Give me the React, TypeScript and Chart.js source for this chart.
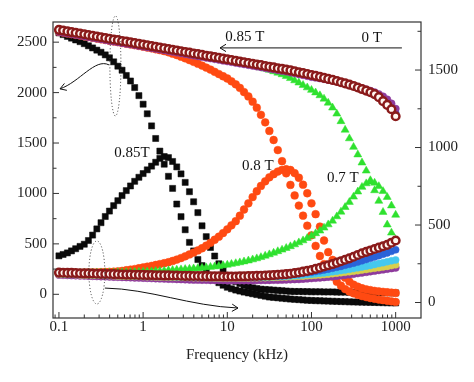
import React, { useEffect, useRef } from "react";
import { Chart, registerables } from "chart.js";
Chart.register(...registerables);

const SERIF = '"Liberation Serif", "Times New Roman", serif';

// measurement frequencies (kHz)
const FREQ = [
  0.1, 0.112, 0.126, 0.141, 0.158, 0.178, 0.2, 0.224, 0.251, 0.282,
  0.316, 0.355, 0.398, 0.447, 0.501, 0.562, 0.631, 0.708, 0.794, 0.891,
  1, 1.12, 1.26, 1.41, 1.58, 1.78, 2, 2.24, 2.51, 2.82,
  3.16, 3.55, 3.98, 4.47, 5.01, 5.62, 6.31, 7.08, 7.94, 8.91,
  10, 11.2, 12.6, 14.1, 15.8, 17.8, 20, 22.4, 25.1, 28.2,
  31.6, 35.5, 39.8, 44.7, 50.1, 56.2, 63.1, 70.8, 79.4, 89.1,
  100, 112, 126, 141, 158, 178, 200, 224, 251, 282,
  316, 355, 398, 447, 501, 562, 631, 708, 794, 891,
  1000,
];

// real part (left axis)
const MU1_MAROON = [
  2622, 2615, 2607, 2600, 2593, 2586, 2578, 2571, 2564, 2556,
  2549, 2542, 2534, 2527, 2520, 2512, 2505, 2498, 2491, 2483,
  2476, 2469, 2461, 2454, 2447, 2439, 2432, 2425, 2418, 2410,
  2403, 2396, 2388, 2381, 2374, 2366, 2359, 2352, 2345, 2337,
  2330, 2323, 2315, 2308, 2301, 2293, 2286, 2279, 2272, 2264,
  2257, 2250, 2242, 2235, 2228, 2220, 2211, 2202, 2193, 2184,
  2175, 2166, 2156, 2146, 2136, 2126, 2115, 2103, 2091, 2079,
  2066, 2050, 2035, 2020, 2003, 1985, 1955, 1915, 1878, 1835,
  1765,
];
const MU1_PURPLE = [
  2602, 2595, 2587, 2580, 2573, 2566, 2558, 2551, 2544, 2536,
  2529, 2522, 2514, 2507, 2500, 2492, 2485, 2478, 2471, 2463,
  2456, 2449, 2441, 2434, 2427, 2419, 2412, 2405, 2398, 2390,
  2383, 2376, 2368, 2361, 2354, 2346, 2339, 2332, 2325, 2317,
  2310, 2303, 2295, 2288, 2281, 2273, 2266, 2259, 2252, 2244,
  2237, 2230, 2222, 2215, 2208, 2200, 2191, 2182, 2173, 2164,
  2155, 2148, 2141, 2134, 2126, 2118, 2109, 2100, 2090, 2079,
  2068, 2056, 2044, 2032, 2018, 2003, 1985, 1962, 1932, 1892,
  1840,
];
const MU1_BLUE = [
  2612, 2605, 2597, 2590, 2583, 2576, 2568, 2561, 2554, 2546,
  2539, 2532, 2524, 2517, 2510, 2502, 2495, 2488, 2481, 2473,
  2466, 2459, 2451, 2444, 2437, 2429, 2422, 2415, 2408, 2400,
  2393, 2386, 2378, 2371, 2364, 2356, 2349, 2342, 2335, 2327,
  2320, 2313, 2305, 2298, 2291, 2283, 2276, 2269, 2262, 2254,
  2247, 2240, 2232, 2225, 2218, 2210, 2201, 2192, 2183, 2174,
  2165, 2157, 2148, 2139, 2130, 2121, 2111, 2100, 2089, 2077,
  2064, 2050, 2036, 2021, 2005, 1988, 1965, 1935, 1898, 1855,
  1800,
];
const MU1_BLACK = [
  2592, 2575, 2557, 2540, 2522, 2505, 2485, 2464, 2443, 2421,
  2400, 2374, 2345, 2305, 2262, 2222, 2170, 2115, 2050, 1970,
  1885, 1790, 1670, 1545, 1420, 1290, 1170, 1050, 895, 770,
  640, 515, 430, 345, 285, 230, 185, 145, 115, 90,
  70, 55, 42, 32, 22, 13, 5, -3, -11, -19,
  -27, -31, -35, -39, -43, -47, -50, -53, -56, -59,
  -61, -63, -64, -66, -67, -69, -70, -72, -73, -75,
  -76, -77, -78, -79, -80, -81, -82, -83, -84, -85,
  -86,
];
const MU1_ORANGE = [
  2602, 2595, 2587, 2580, 2573, 2566, 2558, 2551, 2544, 2536,
  2529, 2522, 2514, 2507, 2500, 2492, 2485, 2478, 2470, 2463,
  2455, 2447, 2439, 2430, 2421, 2411, 2400, 2386, 2372, 2356,
  2340, 2322, 2305, 2287, 2268, 2248, 2228, 2206, 2184, 2162,
  2140, 2112, 2082, 2047, 2005, 1962, 1910, 1850, 1780, 1705,
  1620, 1530, 1430, 1320, 1200, 1085, 980, 880, 780, 680,
  585, 480, 380, 300, 235, 175, 125, 85, 52, 28,
  10, -5, -18, -28, -37, -45, -52, -58, -64, -70,
  -76,
];
const MU1_GREEN = [
  2607, 2600, 2592, 2585, 2578, 2571, 2563, 2556, 2549, 2541,
  2534, 2527, 2519, 2512, 2505, 2497, 2490, 2483, 2476, 2468,
  2461, 2454, 2446, 2439, 2432, 2424, 2417, 2410, 2403, 2395,
  2388, 2381, 2373, 2366, 2359, 2351, 2344, 2337, 2330, 2322,
  2315, 2308, 2300, 2293, 2286, 2278, 2268, 2258, 2248, 2236,
  2224, 2210, 2196, 2180, 2162, 2142, 2120, 2098, 2074, 2050,
  2025, 2000, 1972, 1938, 1898, 1850, 1790, 1715, 1630, 1545,
  1460, 1385, 1305, 1225, 1130, 1030, 925, 815, 690, 610,
  540,
];

// imaginary part (right axis)
const MU2_BLACK = [
  301, 310, 320, 333, 347, 362, 376, 400, 435, 475,
  515, 555, 590, 625, 657, 690, 722, 752, 782, 808,
  832, 856, 880, 905, 930, 942, 935, 910, 875, 830,
  775, 715, 650, 580, 495, 425, 355, 300, 250, 210,
  175, 150, 135, 122, 110, 101, 95, 90, 86, 84,
  82, 80, 78, 76, 74, 72, 71, 71, 70, 70,
  69, 69, 69, 68, 68, 68, 67, 67, 67, 66,
  66, 66, 65, 65, 65, 64, 64, 63, 63, 62,
  62,
];
const MU2_ORANGE = [
  190, 190, 190, 190, 191, 191, 192, 193, 194, 195,
  196, 197, 198, 199, 201, 204, 208, 212, 216, 221,
  226, 231, 236, 242, 248, 254, 260, 268, 277, 287,
  298, 310, 322, 336, 350, 367, 385, 405, 425, 448,
  472, 498, 525, 560, 600, 640, 680, 718, 752, 782,
  808, 828, 845, 856, 860, 855, 835, 805, 760, 705,
  640, 570, 490, 400, 325, 275, 235, 195, 160, 135,
  115, 102, 92, 85, 80, 75, 72, 69, 66, 64,
  62,
];
const MU2_GREEN = [
  190, 190, 190, 190, 190, 190, 191, 191, 191, 192,
  192, 192, 193, 193, 194, 194, 195, 195, 196, 197,
  198, 199, 200, 202, 203, 205, 207, 209, 211, 213,
  215, 217, 219, 221, 223, 226, 229, 232, 235, 239,
  243, 248, 253, 258, 264, 270, 277, 284, 292, 301,
  310, 320, 330, 340, 351, 362, 374, 387, 400, 415,
  430, 446, 463, 482, 503, 527, 555, 585, 615, 648,
  682, 715, 745, 768, 780, 772, 750, 718, 680, 625,
  565,
];
const MU2_MAROON = [
  193, 192, 191, 191, 190, 189, 188, 188, 187, 186,
  185, 184, 184, 183, 182, 181, 180, 180, 179, 178,
  178, 177, 177, 176, 176, 175, 175, 174, 174, 173,
  172, 172, 171, 171, 170, 170, 169, 169, 169, 168,
  168, 168, 168, 169, 169, 170, 171, 172, 173, 174,
  175, 177, 179, 181, 183, 186, 190, 194, 199, 204,
  210, 217, 224, 232, 240, 248, 257, 266, 276, 285,
  295, 307, 318, 327, 336, 345, 354, 363, 372, 386,
  400,
];
const MU2_BLUE = [
  188, 187, 186, 186, 185, 184, 183, 183, 182, 181,
  180, 179, 179, 178, 177, 176, 176, 175, 174, 174,
  173, 172, 172, 171, 170, 170, 169, 169, 168, 168,
  167, 167, 166, 166, 165, 165, 165, 164, 164, 164,
  164, 164, 164, 164, 165, 165, 166, 167, 168, 169,
  170, 171, 173, 175, 177, 179, 182, 185, 188, 192,
  196, 200, 205, 210, 215, 221, 227, 233, 240, 247,
  254, 261, 269, 277, 285, 293, 302, 311, 320, 330,
  340,
];
const MU2_CYAN = [
  185, 184, 183, 183, 182, 181, 180, 180, 179, 178,
  177, 176, 176, 175, 174, 173, 173, 172, 171, 171,
  170, 169, 169, 168, 167, 167, 166, 166, 165, 165,
  164, 164, 163, 163, 162, 162, 162, 161, 161, 161,
  161, 161, 161, 161, 161, 162, 162, 163, 163, 164,
  165, 166, 167, 168, 170, 171, 173, 175, 177, 180,
  182, 185, 188, 191, 194, 198, 202, 206, 210, 214,
  219, 224, 229, 234, 239, 245, 251, 257, 263, 269,
  275,
];
const MU2_YELLOW = [
  182, 181, 180, 180, 179, 178, 177, 177, 176, 175,
  174, 173, 173, 172, 171, 170, 170, 169, 168, 168,
  167, 166, 166, 165, 164, 164, 163, 163, 162, 162,
  161, 161, 160, 160, 159, 159, 159, 158, 158, 158,
  158, 158, 158, 158, 158, 158, 159, 159, 160, 160,
  161, 162, 163, 164, 165, 166, 167, 169, 170, 172,
  174, 176, 178, 180, 183, 186, 189, 192, 195, 198,
  201, 205, 209, 213, 217, 221, 225, 229, 233, 238,
  243,
];
const MU2_PURPLE = [
  178, 177, 176, 175, 174, 173, 172, 171, 170, 169,
  168, 167, 166, 165, 164, 163, 162, 161, 160, 159,
  158, 157, 156, 155, 154, 153, 152, 151, 150, 149,
  148, 147, 146, 146, 145, 145, 144, 144, 143, 143,
  142, 142, 142, 142, 142, 142, 142, 143, 143, 144,
  144, 145, 145, 146, 147, 148, 149, 150, 152, 154,
  156, 158, 160, 162, 165, 168, 171, 174, 177, 180,
  184, 188, 192, 196, 200, 204, 208, 212, 216, 220,
  224,
];

// axis ticks
const X_MAJOR = [0.1, 1, 10, 100, 1000];
const X_TICKS = [
  0.09, 0.1, 0.2, 0.3, 0.4, 0.5, 0.6, 0.7, 0.8, 0.9,
  1, 2, 3, 4, 5, 6, 7, 8, 9,
  10, 20, 30, 40, 50, 60, 70, 80, 90,
  100, 200, 300, 400, 500, 600, 700, 800, 900, 1000,
];
const LEFT_TICKS = [0, 250, 500, 750, 1000, 1250, 1500, 1750, 2000, 2250, 2500];
const RIGHT_TICKS = [0, 250, 500, 750, 1000, 1250, 1500, 1750];

// annotations (frequency, left-axis value)
const LABELS = [
  { text: "0.85 T", f: 16.2, v: 2552 },
  { text: "0 T", f: 521, v: 2542 },
  { text: "0.85T", f: 0.736, v: 1402 },
  { text: "0.8 T", f: 23.1, v: 1273 },
  { text: "0.7 T", f: 236, v: 1154 },
];
const FIELD_ARROW = { from: [1186, 2443], to: [8.2, 2443] };
const ELLIPSES = [
  { f0: 0.403, f1: 0.545, v0: 1769, v1: 2761 },
  { f0: 0.227, f1: 0.351, v0: -96, v1: 529 },
];
const CURVES = [
  [[0.393, 2275], [0.268, 2344], [0.177, 2106], [0.103, 2037]],
  [[0.351, 62], [1.2, 53], [3.6, -116], [13.4, -136]],
];

const toXY = (ys: number[]) => FREQ.map((f, i) => ({ x: f, y: ys[i] }));

const decor = {
  id: "decor",
  afterDraw(chart: any) {
    const { ctx, chartArea: a, scales } = chart;
    const xs = scales.x, yl = scales.yL, yr = scales.yR;
    const P = (f: number, v: number) => [xs.getPixelForValue(f), yl.getPixelForValue(v)];
    ctx.save();
    // frame
    ctx.strokeStyle = "#333";
    ctx.lineWidth = 1.2;
    ctx.strokeRect(a.left, a.top, a.right - a.left, a.bottom - a.top);
    // inward ticks
    ctx.lineWidth = 1;
    ctx.beginPath();
    for (const t of xs.ticks) {
      const px = xs.getPixelForValue(t.value);
      if (px < a.left + 0.5 || px > a.right - 0.5) continue;
      const len = X_MAJOR.includes(t.value) ? 6 : 3.5;
      ctx.moveTo(px, a.bottom);
      ctx.lineTo(px, a.bottom - len);
    }
    for (const t of yl.ticks) {
      const py = yl.getPixelForValue(t.value);
      const len = t.value % 500 === 0 ? 6 : 3.5;
      ctx.moveTo(a.left, py);
      ctx.lineTo(a.left + len, py);
    }
    for (const t of yr.ticks) {
      const py = yr.getPixelForValue(t.value);
      const len = t.value % 500 === 0 ? 6 : 3.5;
      ctx.moveTo(a.right, py);
      ctx.lineTo(a.right - len, py);
    }
    ctx.stroke();

    // labels
    ctx.fillStyle = "#111";
    ctx.font = `15px ${SERIF}`;
    ctx.textAlign = "center";
    ctx.textBaseline = "middle";
    for (const l of LABELS) {
      const [x, y] = P(l.f, l.v);
      ctx.fillText(l.text, x, y);
    }

    const head = (x: number, y: number, ang: number) => {
      const L = 7;
      ctx.beginPath();
      ctx.moveTo(x - L * Math.cos(ang - 0.55), y - L * Math.sin(ang - 0.55));
      ctx.lineTo(x, y);
      ctx.lineTo(x - L * Math.cos(ang + 0.55), y - L * Math.sin(ang + 0.55));
      ctx.stroke();
    };

    ctx.strokeStyle = "#111";
    ctx.lineWidth = 1;
    // field arrow
    const [ax0, ay0] = P(FIELD_ARROW.from[0], FIELD_ARROW.from[1]);
    const [ax1, ay1] = P(FIELD_ARROW.to[0], FIELD_ARROW.to[1]);
    ctx.beginPath();
    ctx.moveTo(ax0, ay0);
    ctx.lineTo(ax1, ay1);
    ctx.stroke();
    head(ax1, ay1, Math.atan2(ay1 - ay0, ax1 - ax0));

    // curved arrows
    for (const c of CURVES) {
      const p = c.map(([f, v]) => P(f, v));
      ctx.beginPath();
      ctx.moveTo(p[0][0], p[0][1]);
      ctx.bezierCurveTo(p[1][0], p[1][1], p[2][0], p[2][1], p[3][0], p[3][1]);
      ctx.stroke();
      head(p[3][0], p[3][1], Math.atan2(p[3][1] - p[2][1], p[3][0] - p[2][0]));
    }

    // dotted ellipses
    ctx.setLineDash([1, 2.2]);
    ctx.strokeStyle = "#333";
    for (const e of ELLIPSES) {
      const [x0, y0] = P(e.f0, e.v1);
      const [x1, y1] = P(e.f1, e.v0);
      ctx.beginPath();
      ctx.ellipse((x0 + x1) / 2, (y0 + y1) / 2, (x1 - x0) / 2, (y1 - y0) / 2, 0, 0, Math.PI * 2);
      ctx.stroke();
    }
    ctx.restore();
  },
};

const filled = (color: string, style: string, r: number) => ({
  pointStyle: style,
  pointRadius: r,
  pointBackgroundColor: color,
  pointBorderColor: color,
  pointBorderWidth: 0.5,
  showLine: false,
});

export default function App() {
  const ref = useRef<HTMLCanvasElement>(null);
  useEffect(() => {
    const maroon = {
      pointStyle: "circle",
      pointRadius: 3.8,
      pointBackgroundColor: "#fff6f0",
      pointBorderColor: "#8a1a1a",
      pointBorderWidth: 2.5,
      showLine: false,
    };
    const chart = new Chart(ref.current as HTMLCanvasElement, {
      type: "scatter",
      data: {
        datasets: [
          { label: "mu1 0T", data: toXY(MU1_MAROON), yAxisID: "yL", ...maroon },
          { label: "mu2 0T", data: toXY(MU2_MAROON), yAxisID: "yR", ...maroon },
          { label: "mu1 p", data: toXY(MU1_PURPLE), yAxisID: "yL", ...filled("#8e3b9c", "circle", 3.7) },
          { label: "mu1 b", data: toXY(MU1_BLUE), yAxisID: "yL", ...filled("#2a63d8", "circle", 3.5) },
          { label: "mu2 b", data: toXY(MU2_BLUE), yAxisID: "yR", ...filled("#2a63d8", "circle", 3.5) },
          { label: "mu2 c", data: toXY(MU2_CYAN), yAxisID: "yR", ...filled("#45c8ee", "circle", 3.5) },
          { label: "mu2 y", data: toXY(MU2_YELLOW), yAxisID: "yR", ...filled("#d8cf4c", "circle", 3.5) },
          { label: "mu2 p", data: toXY(MU2_PURPLE), yAxisID: "yR", ...filled("#8e3b9c", "circle", 3.7) },
          { label: "mu1 0.7T", data: toXY(MU1_GREEN), yAxisID: "yL", ...filled("#2fe12f", "triangle", 4.6) },
          { label: "mu2 0.7T", data: toXY(MU2_GREEN), yAxisID: "yR", ...filled("#2fe12f", "triangle", 4.6) },
          { label: "mu1 0.8T", data: toXY(MU1_ORANGE), yAxisID: "yL", ...filled("#ff4a12", "circle", 3.9) },
          { label: "mu2 0.8T", data: toXY(MU2_ORANGE), yAxisID: "yR", ...filled("#ff4a12", "circle", 3.9) },
          { label: "mu1 0.85T", data: toXY(MU1_BLACK), yAxisID: "yL", ...filled("#0a0a0a", "rect", 4.3) },
          { label: "mu2 0.85T", data: toXY(MU2_BLACK), yAxisID: "yR", ...filled("#0a0a0a", "rect", 4.3) },
        ] as any,
      },
      options: {
        responsive: false,
        animation: false,
        devicePixelRatio: 1,
        layout: { padding: { top: 22, left: 0, right: 0, bottom: 14 } },
        plugins: { legend: { display: false }, tooltip: { enabled: false } },
        events: [],
        scales: {
          x: {
            type: "logarithmic",
            position: "bottom",
            min: 0.085,
            max: 2000,
            grid: { display: false, drawTicks: false },
            border: { display: false },
            afterBuildTicks: (s: any) => {
              s.ticks = X_TICKS.map((v) => ({ value: v, major: X_MAJOR.includes(v) }));
            },
            afterFit: (s: any) => {
              s.height = 50;
            },
            ticks: {
              autoSkip: false,
              maxRotation: 0,
              minRotation: 0,
              padding: 0,
              color: "#222",
              font: { family: SERIF, size: 15 },
              callback: (v: any) => (X_MAJOR.includes(Number(v)) ? String(v) : ""),
            },
            title: {
              display: true,
              text: "Frequency (kHz)",
              color: "#222",
              font: { family: SERIF, size: 15 },
              padding: { top: 4, bottom: 4 },
            },
          },
          yL: {
            type: "linear",
            position: "left",
            min: -235,
            max: 2700,
            bounds: "data",
            grid: { display: false, drawTicks: false },
            border: { display: false },
            afterBuildTicks: (s: any) => {
              s.ticks = LEFT_TICKS.map((v) => ({ value: v }));
            },
            afterFit: (s: any) => {
              s.width = 53;
            },
            ticks: {
              padding: 6,
              color: "#222",
              font: { family: SERIF, size: 15 },
              callback: (v: any) => (Number(v) % 500 === 0 ? String(v) : ""),
            },
          },
          yR: {
            type: "linear",
            position: "right",
            min: -100,
            max: 1810,
            bounds: "data",
            grid: { display: false, drawTicks: false },
            border: { display: false },
            afterBuildTicks: (s: any) => {
              s.ticks = RIGHT_TICKS.map((v) => ({ value: v }));
            },
            afterFit: (s: any) => {
              s.width = 53;
            },
            ticks: {
              padding: 7,
              color: "#222",
              font: { family: SERIF, size: 15 },
              callback: (v: any) => (Number(v) % 500 === 0 ? String(v) : ""),
            },
          },
        },
      } as any,
      plugins: [decor],
    });
    return () => chart.destroy();
  }, []);
  return (
    <div style={{ position: "fixed", left: 0, top: 0, width: 474, height: 382, background: "#fff" }}>
      <canvas ref={ref} width={474} height={382} style={{ width: 474, height: 382, display: "block" }} />
    </div>
  );
}
